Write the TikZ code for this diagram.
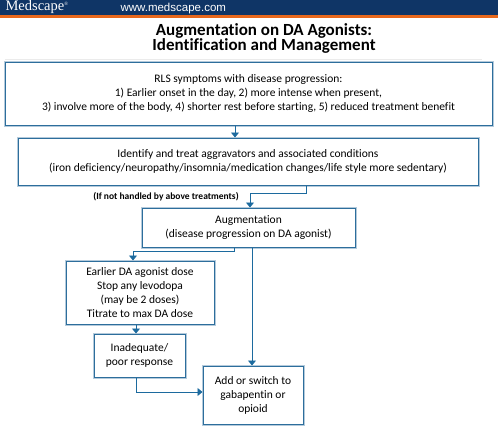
\documentclass[tikz,border=0pt]{standalone}
\usepackage{fontspec}
\setmainfont[Ligatures=NoCommon]{Carlito}
\newfontfamily\mserif{Liberation Serif}
\newfontfamily\msans{Liberation Sans}
\usetikzlibrary{arrows.meta}
\definecolor{navy}{HTML}{0F3566}
\definecolor{bandorange}{HTML}{E8681C}
\definecolor{boxblue}{HTML}{2D6E9C}
\definecolor{boxshade}{HTML}{B4CADB}
\definecolor{flowblue}{HTML}{1C6A9E}
\tikzset{
  stepbox/.style={draw=boxblue, line width=1pt, fill=white, align=center,
    inner sep=0pt, font=\fontsize{11.5}{14}\selectfont,
    preaction={draw=boxshade, line width=3pt}},
  flow/.style={draw=flowblue, line width=0.9pt},
  arr/.style={flow, -{Triangle[width=8pt, length=5pt]}}
}
\begin{document}
\begin{tikzpicture}[x=1pt, y=-1pt]
    \useasboundingbox (0,0) rectangle (498,431);
    % Header
    \fill[navy] (0,0) rectangle (498,15);
    \fill[bandorange] (0,15) rectangle (498,17.5);
    \node[anchor=west, text=white, font=\mserif\fontsize{14.5}{12}\selectfont] (brand) at (2,7.5) {Medscape\textsuperscript{\tiny\textregistered}};
    \node[anchor=west, text=white, font=\msans\fontsize{11.5}{12}\selectfont] (site) at (117,8.5) {www.medscape.com};
    
    % Title
    \node[align=center, font=\bfseries\fontsize{17}{14.5}\selectfont] (title) at (264,38.5) {Augmentation on DA Agonists:\\Identification and Management};
    \draw[black!8, line width=0.8pt] (5,59) -- (482,59);
    
    % Boxes
    \node[stepbox, minimum width=487pt, minimum height=63pt] (sym) at (248.5,93.5)
      {RLS symptoms with disease progression:\\
       1) Earlier onset in the day, 2) more intense when present,\\
       3) involve more of the body, 4) shorter rest before starting, 5) reduced treatment benefit};
    \node[stepbox, minimum width=460pt, minimum height=47pt] (ident) at (248,161.5)
      {Identify and treat aggravators and associated conditions\\
       (iron deficiency/neuropathy/insomnia/medication changes/life style more sedentary)};
    \node[stepbox, minimum width=213pt, minimum height=39pt] (aug) at (248.5,227.5)
      {Augmentation\\(disease progression on DA agonist)};
    \node[stepbox, minimum width=148pt, minimum height=63pt] (dose) at (140,292.5)
      {Earlier DA agonist dose\\Stop any levodopa\\(may be 2 doses)\\Titrate to max DA dose};
    \node[stepbox, minimum width=91pt, minimum height=43pt] (poor) at (139.5,355.5)
      {Inadequate/\\poor response};
    \node[stepbox, minimum width=100pt, minimum height=58pt] (add) at (253,395)
      {Add or switch to\\gabapentin or\\opioid};
    
    % Label
    \node[font=\bfseries\fontsize{9.5}{9}\selectfont] (note) at (166,197) {(If not handled by above treatments)};
    
    % Flow
    \draw[arr] (235,0 |- sym.south) -- (235,0 |- ident.north);
    \draw[arr] (306,0 |- ident.south) |- (250,193) -- (250,0 |- aug.north);
    \draw[arr] (234,0 |- aug.south) |- (133,251) -- (133,0 |- dose.north);
    \draw[arr] (252,0 |- aug.south) -- (252,0 |- add.north);
    \draw[arr] (136,0 |- dose.south) -- (136,0 |- poor.north);
    \draw[arr] (136,0 |- poor.south) |- (add.west |- 0,392);
    
\end{tikzpicture}
\end{document}
